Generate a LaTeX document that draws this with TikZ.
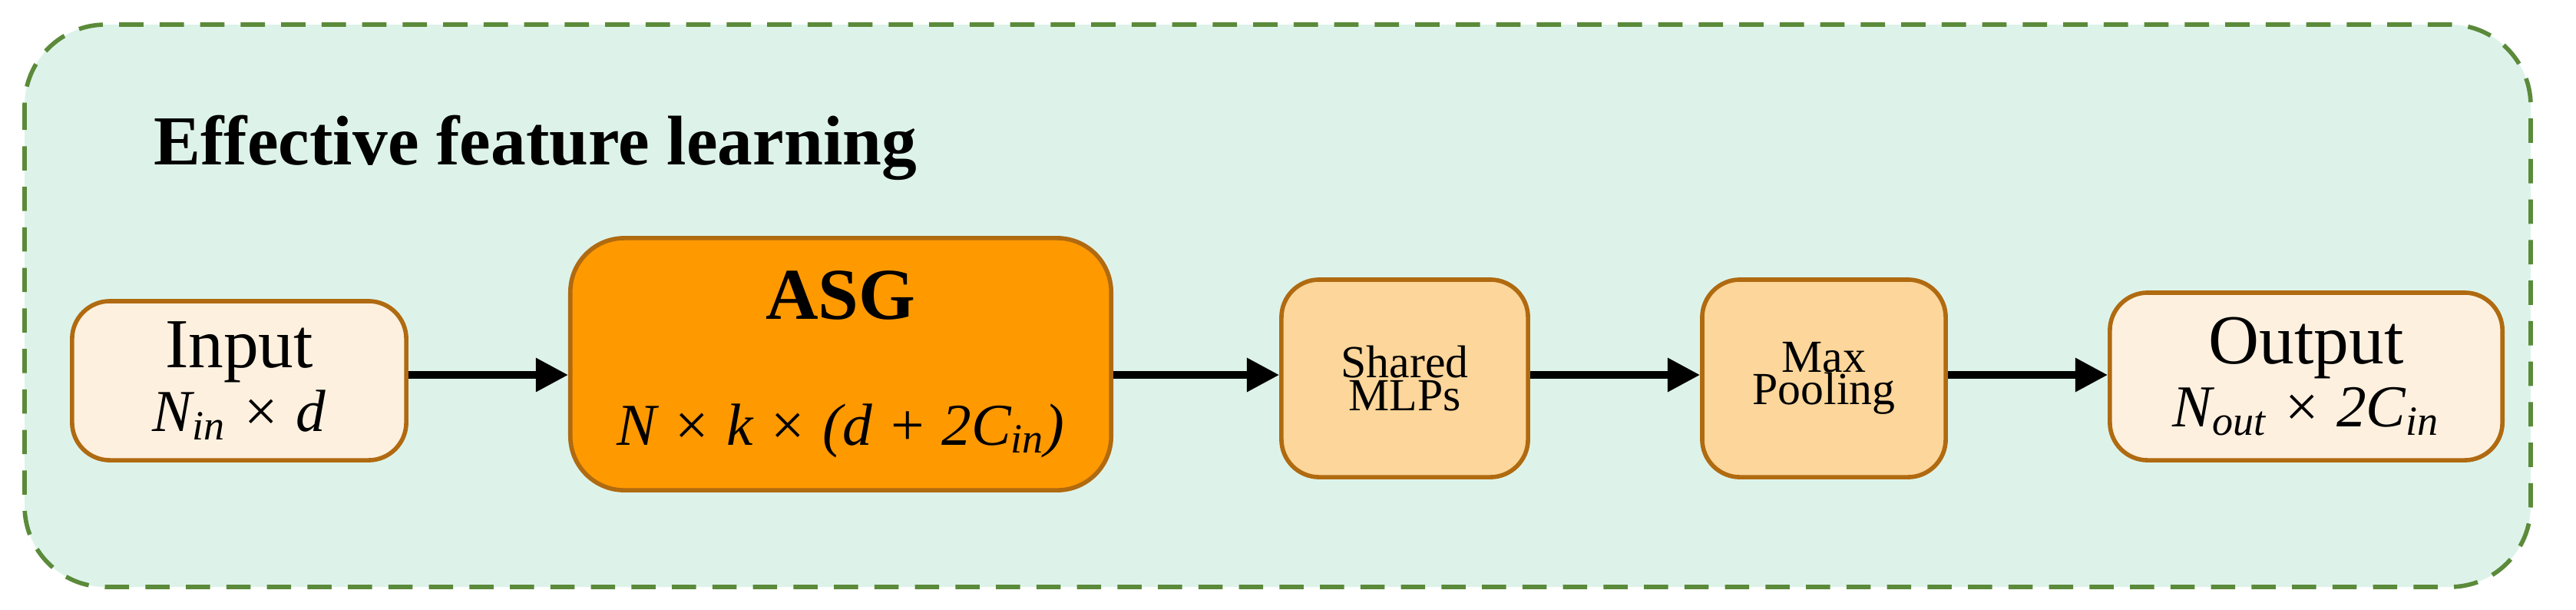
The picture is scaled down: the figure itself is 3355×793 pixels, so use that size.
\documentclass[tikz,border=0pt]{standalone}
\usepackage{fontspec}
\setmainfont{Liberation Serif}
\usetikzlibrary{arrows.meta}
\definecolor{bgg}{HTML}{DDF3EA}
\definecolor{dashg}{HTML}{5B8A3A}
\definecolor{brd}{HTML}{B06A10}
\definecolor{pale}{HTML}{FEF0DF}
\definecolor{asgc}{HTML}{FF9900}
\definecolor{midc}{HTML}{FCD69A}
\tikzset{
 blk/.style={draw=brd,line width=1.6pt,rounded corners=14pt,align=center,inner sep=0pt},
 arr/.style={line width=2.6pt,-{Triangle[length=12pt,width=12pt]}}
}
\begin{document}
\begin{tikzpicture}[x=0.01cm,y=-0.01cm]
\useasboundingbox (0,0) rectangle (3355,793);
\fill[white] (0,0) rectangle (3355,793);
\draw[dashg,fill=bgg,line width=1.6pt,dash pattern=on 9pt off 6pt,rounded corners=30pt] (32,32) rectangle (3296,764);
\node[anchor=base west,font=\fontsize{26}{30}\selectfont\bfseries] (title) at (188,214) {Effective feature learning};
\node[blk,fill=pale,minimum width=4.35cm,minimum height=2.07cm] (in) at (311.5,495.5) {\fontsize{26}{30}\selectfont Input\\[2pt]\fontsize{22}{26}\selectfont\itshape N\textsubscript{in} × d};
\node[blk,fill=asgc,minimum width=7.04cm,minimum height=3.28cm,rounded corners=20pt] (asg) at (1095,474) {\fontsize{27}{31}\selectfont\bfseries ASG\\[30pt]\fontsize{22}{26}\selectfont\itshape N × k × (d + 2C\textsubscript{in})};
\node[blk,fill=midc,minimum width=3.21cm,minimum height=2.57cm] (mlp) at (1829.5,492.5) {\fontsize{17}{27}\selectfont Shared\\\fontsize{17}{27}\selectfont MLPs};
\node[blk,fill=midc,minimum width=3.17cm,minimum height=2.57cm] (pool) at (2375.5,492.5) {\fontsize{17}{27}\selectfont Max\\\fontsize{17}{27}\selectfont Pooling};
\node[blk,fill=pale,minimum width=5.11cm,minimum height=2.18cm] (out) at (3003.5,490) {\fontsize{26}{30}\selectfont Output\\[2pt]\fontsize{22}{26}\selectfont\itshape N\textsubscript{out} × 2C\textsubscript{in}};
\draw[arr] (in.east|-0,488) -- (asg.west|-0,488);
\draw[arr] (asg.east|-0,488) -- (mlp.west|-0,488);
\draw[arr] (mlp.east|-0,488) -- (pool.west|-0,488);
\draw[arr] (pool.east|-0,488) -- (out.west|-0,488);
\end{tikzpicture}
\end{document}
